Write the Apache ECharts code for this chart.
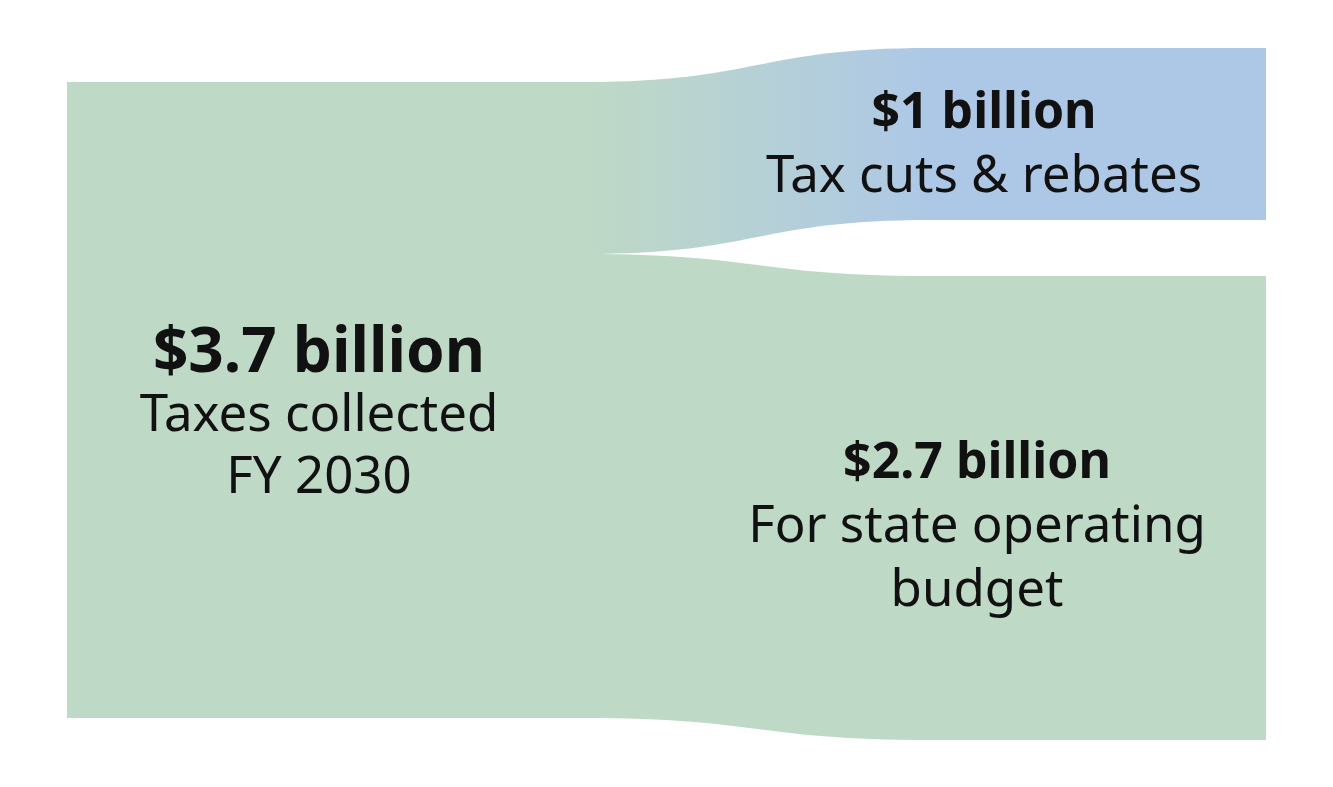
<!DOCTYPE html>
<html>
<head>
<meta charset="utf-8">
<title>Taxes collected FY 2030</title>
<script src="https://cdn.jsdelivr.net/npm/echarts@6/dist/echarts.min.js"></script>
<style>
  html, body { margin: 0; padding: 0; background: #fff; }
  #chart { width: 1333px; height: 787px; }
</style>
</head>
<body>
<div id="chart"></div>
<script>
// data
const totalLabel = '$3.7 billion';
const totalName = ['Taxes collected', 'FY 2030'];
const totalValue = 3.7;
const splitLabels = ['$1 billion', '$2.7 billion'];
const splitNames = ['Tax cuts & rebates', 'For state operating\nbudget'];
const splitValues = [1, 2.7];

const GREEN = '#bed9c5';
const BLUE = '#adc8e6';
const splitColors = [BLUE, GREEN];
const splitOffsets = [[-114, 12], [-121, 20]];

const chart = echarts.init(document.getElementById('chart'));

// the wide left block = source node + a pass-through node slid under it
const SRC = totalName.join(' ');
const MID = SRC + ' (split)';
const leftTop = 34 / 692; // left block sits a bit lower than the right column

const nodes = [
  {
    name: SRC,
    localY: leftTop,
    itemStyle: { color: GREEN },
    label: {
      show: true,
      position: 'inside',
      offset: [84, 16],
      formatter: '{b|' + totalLabel + '}\n{n|' + totalName.join('}\n{n|') + '}',
      rich: {
        b: { fontSize: 62, fontWeight: 'bold', lineHeight: 63, color: '#111', fontFamily: 'Noto Sans' },
        n: { fontSize: 51, lineHeight: 62, color: '#111', fontFamily: 'Noto Sans' }
      }
    }
  },
  { name: MID, localX: 182 / 1199, localY: leftTop, itemStyle: { color: GREEN }, label: { show: false } }
];
const links = [
  { source: SRC, target: MID, value: totalValue, lineStyle: { opacity: 0 } }
];

splitNames.forEach((name, i) => {
  nodes.push({
    name: name,
    itemStyle: { color: splitColors[i] },
    label: {
      show: true,
      position: 'inside',
      offset: splitOffsets[i],
      formatter: '{b|' + splitLabels[i] + '}\n{n|' + name.split('\n').join('}\n{n|') + '}',
      rich: {
        b: { fontSize: 50, fontWeight: 'bold', lineHeight: 64, color: '#111', fontFamily: 'Noto Sans' },
        n: { fontSize: 51, lineHeight: 64, color: '#111', fontFamily: 'Noto Sans' }
      }
    }
  });
  links.push({ source: MID, target: name, value: splitValues[i] });
});

chart.setOption({
  animation: false,
  series: [
    {
      type: 'sankey',
      left: 67,
      right: 67,
      top: 48,
      bottom: 47,
      nodeWidth: 336,
      nodeGap: 56,
      layoutIterations: 0,
      draggable: false,
      emphasis: { disabled: true },
      itemStyle: { borderWidth: 0 },
      lineStyle: { color: 'gradient', opacity: 1, curveness: 0.5 },
      label: { color: '#111', fontFamily: 'Noto Sans', align: 'center' },
      data: nodes,
      links: links
    }
  ]
});

window.addEventListener('resize', () => chart.resize());
</script>
</body>
</html>
